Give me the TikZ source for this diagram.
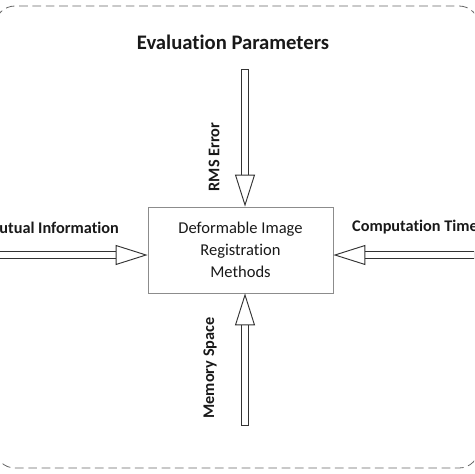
\documentclass[tikz,border=0pt]{standalone}
\usepackage{fontspec}
\setmainfont{Carlito}[RawFeature=-liga]
\usetikzlibrary{arrows.meta}
\begin{document}
\begin{tikzpicture}[x=0.75pt,y=0.75pt]
	\tikzstyle{every node}+=[inner sep=0pt, text=black!90]
	\tikzstyle{paramtext}=[font=\bfseries\fontsize{12.2}{14}\selectfont]
	\tikzstyle{blockarrow}=[draw=black!80, line width=0.7pt, line cap=rect, double=white, double distance=4.6pt, -{Triangle[open, length=24pt, width=15pt, fill=white, line cap=butt]}]
	\useasboundingbox (0,0) rectangle (474,-474);
	\clip (0,0) rectangle (474,-474);
	% outer frame
	\draw [black!60, line width=0.6pt, dash pattern=on 6.5pt off 3.5pt, rounded corners=15pt] (-5,-6) rectangle (479,-468);
	\node [font=\bfseries\fontsize{15.5}{18}\selectfont] (title) at (233,-42) {Evaluation Parameters};
	\node [draw=black!45, line width=0.6pt, minimum width=138.75pt, minimum height=64.5pt, align=center, font=\fontsize{12.4}{16.5}\selectfont] (dirm) at (240.5,-250) {Deformable Image\\Registration\\Methods};
	% free ends of the arrows
	\coordinate (rmsend) at (245,-73);
	\coordinate (memend) at (245,-422);
	\coordinate (miend) at (3,-255);
	\coordinate (ctend) at (480,-255);
	\draw [blockarrow] (rmsend) -- (rmsend |- dirm.north);
	\draw [blockarrow] (memend) -- (memend |- dirm.south);
	\draw [blockarrow] (miend) -- (dirm.west |- miend);
	\draw [blockarrow] (ctend) -- (dirm.east |- ctend);
	\node [paramtext, rotate=90] (rms) at (214,-157) {RMS Error};
	\node [paramtext, rotate=90] (mem) at (210,-368) {Memory Space};
	\node [paramtext] (mi) at (52,-228) {Mutual Information};
	\node [paramtext] (ct) at (415,-227) {Computation Time};
\end{tikzpicture}
\end{document}
